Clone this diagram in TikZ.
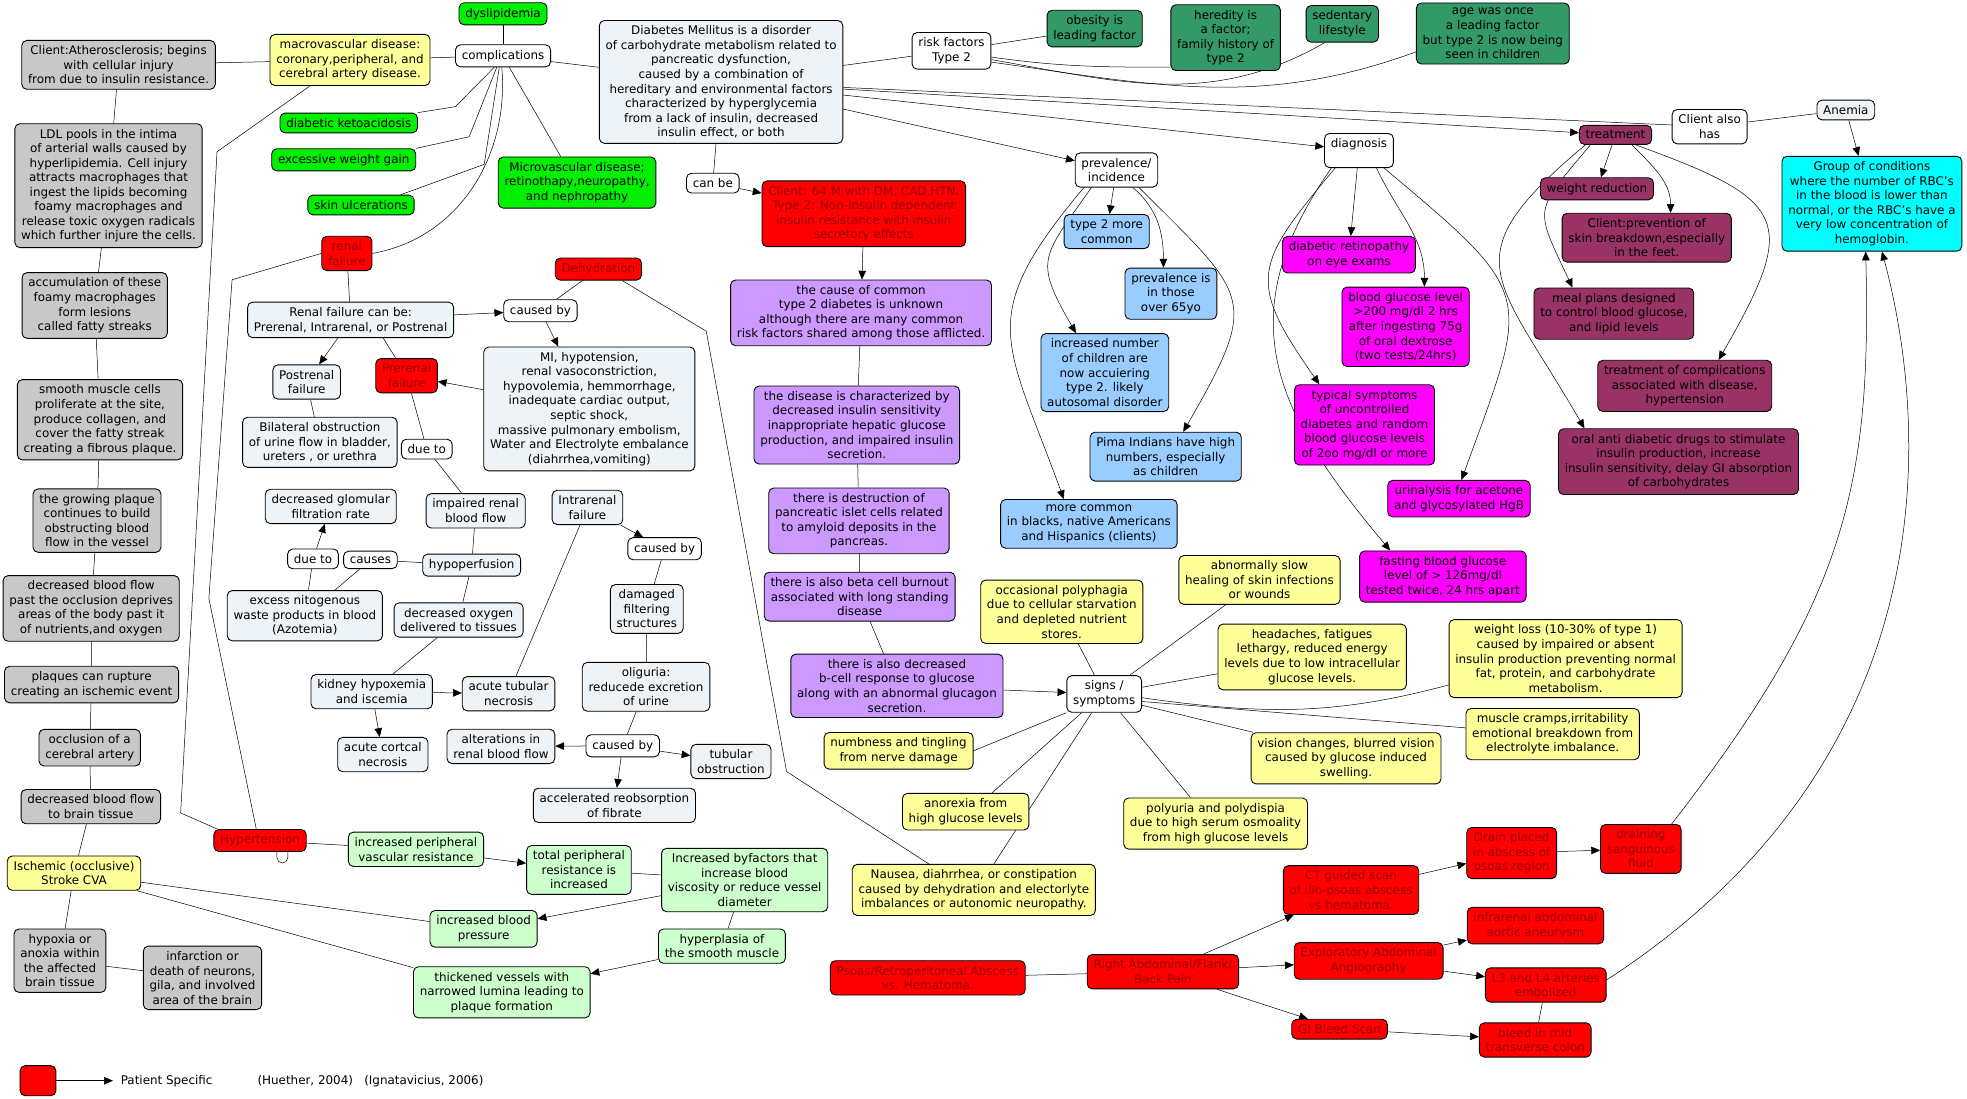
\documentclass[tikz,border=0pt]{standalone}
\usepackage{fontspec}
\setmainfont{DejaVu Sans}
\usepackage{xcolor}
\usetikzlibrary{arrows.meta, backgrounds}

\definecolor{cgrey}{RGB}{200,200,200}
\definecolor{cpale}{RGB}{237,243,246}
\definecolor{cyellow}{RGB}{255,255,153}
\definecolor{clime}{RGB}{0,240,0}
\definecolor{cforest}{RGB}{51,153,102}
\definecolor{cred}{RGB}{255,0,0}
\definecolor{cdarkred}{RGB}{150,0,0}
\definecolor{cpurple}{RGB}{204,153,255}
\definecolor{cblue}{RGB}{153,204,255}
\definecolor{cmagenta}{RGB}{255,0,255}
\definecolor{cmaroon}{RGB}{153,51,102}
\definecolor{ccyan}{RGB}{0,255,255}
\definecolor{cmint}{RGB}{204,255,204}

\begin{document}
\begin{tikzpicture}[
  x=1pt, y=1pt,
  font=\fontsize{9.5}{11.6}\selectfont,
  line width=0.6pt,
  box/.style={draw, line width=0.7pt, rounded corners=4pt, align=center,
              inner xsep=5pt, inner ysep=4.2pt},
  greybox/.style={box, fill=cgrey},
  palebox/.style={box, fill=cpale},
  yellowbox/.style={box, fill=cyellow},
  limebox/.style={box, fill=clime},
  forestbox/.style={box, fill=cforest},
  redbox/.style={box, fill=cred, text=cdarkred},
  purplebox/.style={box, fill=cpurple},
  bluebox/.style={box, fill=cblue},
  magbox/.style={box, fill=cmagenta},
  maroonbox/.style={box, fill=cmaroon},
  cyanbox/.style={box, fill=ccyan},
  mintbox/.style={box, fill=cmint},
  linkbox/.style={box, fill=white},
  arr/.style={-{Triangle[length=7pt, width=6pt]}}
]
  \useasboundingbox (0,0) rectangle (1568,-876);

  % Left column: atherosclerosis chain
  \node[greybox] (athero)    at (94.5, -51.7)  {Client:Atherosclerosis; begins\\with cellular injury\\from due to insulin resistance.};
  \node[greybox] (ldl)       at (86.5, -148)   {LDL pools in the intima\\of arterial walls caused by\\hyperlipidemia. Cell injury\\attracts macrophages that\\ingest the lipids becoming\\foamy macrophages and\\release toxic oxygen radicals\\which further injure the cells.};
  \node[greybox] (fatty)     at (75.5, -243.5) {accumulation of these\\foamy macrophages\\form lesions\\called fatty streaks};
  \node[greybox] (smooth)    at (79.7, -334.6) {smooth muscle cells\\proliferate at the site,\\produce collagen, and\\cover the fatty streak\\creating a fibrous plaque.};
  \node[greybox] (growing)   at (77.3, -415)   {the growing plaque\\continues to build\\obstructing blood\\flow in the vessel};
  \node[greybox] (decflow)   at (72.7, -485)   {decreased blood flow\\past the occlusion deprives\\areas of the body past it\\of nutrients,and oxygen};
  \node[greybox] (rupture)   at (73, -545.7)   {plaques can rupture\\creating an ischemic event};
  \node[greybox] (occlusion) at (71.5, -596)   {occlusion of a\\cerebral artery};
  \node[greybox] (brainflow) at (72.4, -643)   {decreased blood flow\\to brain tissue};
  \node[yellowbox] (stroke)  at (59, -696)     {Ischemic (occlusive)\\Stroke CVA};
  \node[greybox] (hypoxia)   at (47.8, -765.8) {hypoxia or\\anoxia within\\the affected\\brain tissue};
  \node[greybox] (infarct)   at (161.4, -779.5) {infarction or\\death of neurons,\\gila, and involved\\area of the brain};

  % Complications
  \node[limebox] (dyslip)    at (401, -11)     {dyslipidemia};
  \node[linkbox] (compl)     at (401, -44.5)   {complications};
  \node[yellowbox] (macro)   at (279, -47.8)   {macrovascular disease:\\coronary,peripheral, and\\cerebral artery disease.};
  \node[limebox] (dka)       at (278, -98)     {diabetic ketoacidosis};
  \node[limebox] (weight)    at (274, -127.4)  {excessive weight gain};
  \node[limebox] (skin)      at (287.8, -163.4) {skin ulcerations};
  \node[limebox] (micro)     at (460, -145.5)  {Microvascular disease;\\retinothapy,neuropathy,\\and nephropathy};
  \node[redbox] (renal)      at (276.5, -202)  {renal\\failure};
  \node[redbox] (dehyd)      at (477, -214.5)  {Dehydration};

  % Diabetes mellitus and type 2
  \node[palebox] (dm)        at (574.8, -65.3) {Diabetes Mellitus is a disorder\\of carbohydrate metabolism related to\\pancreatic dysfunction,\\caused by a combination of\\hereditary and environmental factors\\characterized by hyperglycemia\\from a lack of insulin, decreased\\insulin effect, or both};
  \node[linkbox] (risk)      at (758.5, -40.5) {risk factors\\Type 2};
  \node[forestbox] (obesity) at (872.6, -22.8) {obesity is\\leading factor};
  \node[forestbox] (heredity) at (977, -30)    {heredity is\\a factor;\\family history of\\type 2};
  \node[forestbox] (sedentary) at (1070, -19)  {sedentary\\lifestyle};
  \node[forestbox] (age)     at (1190, -26.7)  {age was once\\a leading factor\\but type 2 is now being\\seen in children};
  \node[linkbox] (canbe)     at (568.2, -146)  {can be};
  \node[redbox] (client64)   at (688.6, -170.4) {Client: 64 M with DM, CAD,HTN.\\Type 2: Non-Insulin dependent\\insulin resistance with insulin\\secretory effects};
  \node[purplebox] (cause)   at (686.4, -249.4) {the cause of common\\type 2 diabetes is unknown\\although there are many common\\risk factors shared among those afflicted.};
  \node[purplebox] (charac)  at (683, -338.8)  {the disease is characterized by\\decreased insulin sensitivity\\inappropriate hepatic glucose\\production, and impaired insulin\\secretion.};
  \node[purplebox] (destruction) at (684.7, -415.2) {there is destruction of\\pancreatic islet cells related\\to amyloid deposits in the\\pancreas.};
  \node[purplebox] (burnout) at (685.3, -475.6) {there is also beta cell burnout\\associated with long standing\\disease};
  \node[purplebox] (bcell)   at (715, -546.7)  {there is also decreased\\b-cell response to glucose\\along with an abnormal glucagon\\secretion.};

  % Prevalence
  \node[linkbox] (prev)      at (890, -135.5)  {prevalence/\\incidence};
  \node[bluebox] (type2common) at (882.2, -184.6) {type 2 more\\common};
  \node[bluebox] (over65)    at (933.4, -234.1) {prevalence is\\in those\\over 65yo};
  \node[bluebox] (children)  at (880.7, -297)  {increased number\\of children are\\now accuiering\\type 2. likely\\autosomal disorder};
  \node[bluebox] (pima)      at (929.2, -364)  {Pima Indians have high\\numbers, especially\\as children};
  \node[bluebox] (blacks)    at (868, -417.6)  {more common\\in blacks, native Americans\\and Hispanics (clients)};

  % Diagnosis
  \node[linkbox] (diag)      at (1083.3, -120) {diagnosis\\~};
  \node[magbox] (retino)     at (1075.3, -203) {diabetic retinopathy\\on eye exams};
  \node[magbox] (bg200)      at (1120.5, -260.5) {blood glucose level\\>200 mg/dl 2 hrs\\after ingesting 75g\\of oral dextrose\\(two tests/24hrs)};
  \node[magbox] (typical)    at (1087.7, -338.7) {typical symptoms\\of uncontrolled\\diabetes and random\\blood glucose levels\\of 2oo mg/dl or more};
  \node[magbox] (urinalysis) at (1163, -397.5) {urinalysis for acetone\\and glycosylated HgB};
  \node[magbox] (fasting)    at (1150.2, -459.6) {fasting blood glucose\\level of > 126mg/dl\\tested twice, 24 hrs apart};

  % Treatment
  \node[maroonbox] (treat)   at (1287.8, -107.5) {treatment};
  \node[maroonbox] (weightred) at (1273, -150.5) {weight reduction};
  \node[maroonbox] (prevskin) at (1312.7, -189.5) {Client:prevention of\\skin breakdown,especially\\in the feet.};
  \node[maroonbox] (meal)    at (1286.5, -250) {meal plans designed\\to control blood glucose,\\and lipid levels};
  \node[maroonbox] (complic) at (1343, -307.6) {treatment of complications\\associated with disease,\\hypertension};
  \node[maroonbox] (oral)    at (1338, -368)   {oral anti diabetic drugs to stimulate\\insulin production, increase\\insulin sensitivity, delay GI absorption\\of carbohydrates};

  % Anemia
  \node[linkbox] (alsohas)   at (1362.8, -101) {Client also\\has};
  \node[palebox] (anemia)    at (1471.4, -87.7) {Anemia};
  \node[cyanbox] (group)     at (1492.2, -162.4) {Group of conditions\\where the number of RBC's\\in the blood is lower than\\normal, or the RBC's have a\\very low concentration of\\hemoglobin.};

  % Renal failure
  \node[palebox] (renalcan)  at (279.5, -255)  {Renal failure can be:\\Prerenal, Intrarenal, or Postrenal};
  \node[linkbox] (causedby1) at (430.8, -247.7) {caused by};
  \node[palebox] (mi)        at (469.8, -326)  {MI, hypotension,\\renal vasoconstriction,\\hypovolemia, hemmorrhage,\\inadequate cardiac output,\\septic shock,\\massive pulmonary embolism,\\Water and Electrolyte embalance\\(diahrrhea,vomiting)};
  \node[palebox] (postrenal) at (244.5, -304.5) {Postrenal\\failure};
  \node[redbox] (prerenal)   at (324.1, -299.5) {Prerenal\\failure};
  \node[palebox] (bilateral) at (255, -352.6)  {Bilateral obstruction\\of urine flow in bladder,\\ureters , or urethra};
  \node[linkbox] (dueto1)    at (340.2, -358)  {due to};
  \node[palebox] (glomular)  at (263.7, -403.7) {decreased glomular\\filtration rate};
  \node[palebox] (impaired)  at (379.2, -407.2) {impaired renal\\blood flow};
  \node[palebox] (intrarenal) at (468.3, -404.5) {Intrarenal\\failure};
  \node[linkbox] (dueto2)    at (249.5, -445.5) {due to};
  \node[linkbox] (causes)    at (295.3, -446.3) {causes};
  \node[palebox] (hypoperf)  at (376, -450.5)  {hypoperfusion};
  \node[linkbox] (causedby2) at (529.8, -437.4) {caused by};
  \node[palebox] (damaged)   at (515.6, -485.4) {damaged\\filtering\\structures};
  \node[palebox] (excess)    at (243, -490.8)  {excess nitogenous\\waste products in blood\\(Azotemia)};
  \node[palebox] (decoxy)    at (365.6, -494.2) {decreased oxygen\\delivered to tissues};
  \node[palebox] (kidney)    at (296.3, -551.3) {kidney hypoxemia\\and iscemia};
  \node[palebox] (atn)       at (405.4, -553)  {acute tubular\\necrosis};
  \node[palebox] (oliguria)  at (515, -547.5)  {oliguria:\\reducede excretion\\of urine};
  \node[palebox] (cortical)  at (305.2, -601.5) {acute cortcal\\necrosis};
  \node[palebox] (alterations) at (399.3, -595) {alterations in\\renal blood flow};
  \node[linkbox] (causedby3) at (496.4, -594.5) {caused by};
  \node[palebox] (tubular)   at (582.7, -607)  {tubular\\obstruction};
  \node[palebox] (accel)     at (489.8, -642)  {accelerated reobsorption\\of fibrate};

  % Hypertension
  \node[redbox] (htn)        at (207.3, -670)  {Hypertension};
  \node[mintbox] (ipvr)      at (331.6, -677)  {increased peripheral\\vascular resistance};
  \node[mintbox] (tpr)       at (461.5, -693.5) {total peripheral\\resistance is\\increased};
  \node[mintbox] (byfactors) at (593.6, -701.5) {Increased byfactors that\\increase blood\\viscosity or reduce vessel\\diameter};
  \node[mintbox] (ibp)       at (385.5, -740.4) {increased blood\\pressure};
  \node[mintbox] (hyperplasia) at (575.5, -754.2) {hyperplasia of\\the smooth muscle};
  \node[mintbox] (thick)     at (400, -791)    {thickened vessels with\\narrowed lumina leading to\\plaque formation};

  % Signs and symptoms
  \node[linkbox] (signs)     at (880.2, -553.2) {signs /\\symptoms};
  \node[yellowbox] (polyphagia) at (846.4, -487.7) {occasional polyphagia\\due to cellular starvation\\and depleted nutrient\\stores.};
  \node[yellowbox] (slowheal) at (1004, -462.3) {abnormally slow\\healing of skin infections\\or wounds};
  \node[yellowbox] (headaches) at (1046, -523.7) {headaches, fatigues\\lethargy, reduced energy\\levels due to low intracellular\\glucose levels.};
  \node[yellowbox] (weightloss) at (1248, -525) {weight loss (10-30\% of type 1)\\caused by impaired or absent\\insulin production preventing normal\\fat, protein, and carbohydrate\\metabolism.};
  \node[yellowbox] (cramps)  at (1237.7, -585.2) {muscle cramps,irritability\\emotional breakdown from\\electrolyte imbalance.};
  \node[yellowbox] (vision)  at (1073, -604.5) {vision changes, blurred vision\\caused by glucose induced\\swelling.};
  \node[yellowbox] (numbness) at (716.3, -598.5) {numbness and tingling\\from nerve damage};
  \node[yellowbox] (anorexia) at (769.8, -647) {anorexia from\\high glucose levels};
  \node[yellowbox] (polyuria) at (969, -656.5) {polyuria and polydispia\\due to high serum osmoality\\from high glucose levels};
  \node[yellowbox] (nausea)  at (776.3, -709.4) {Nausea, diahrrhea, or constipation\\caused by dehydration and electorlyte\\imbalances or autonomic neuropathy.};

  % Abscess work-up
  \node[redbox] (psoas)      at (739.6, -779.5) {Psoas/Retroperitoneal Abscess\\vs. Hematoma.};
  \node[redbox] (pain)       at (927, -774.6)  {Right Abdominal/Flank/\\Back Pain};
  \node[redbox] (ct)         at (1077, -709.5) {CT guided scan\\of ilio-psoas abscess\\vs hematoma.};
  \node[redbox] (explor)     at (1091, -766)   {Exploratory Abdominal\\Angiography};
  \node[redbox] (gi)         at (1067.8, -820.4) {GI Bleed Scan};
  \node[redbox] (drain)      at (1205, -680)   {Drain placed\\in abscess of\\psoas region};
  \node[redbox] (draining)   at (1308, -676.7) {draining\\sanguinous\\fluid};
  \node[redbox] (infrarenal) at (1224, -737.8) {infrarenal abdominal\\aortic aneurysm};
  \node[redbox] (l3l4)       at (1232.2, -785.2) {L3 and L4 arteries\\embolized};
  \node[redbox] (bleed)      at (1223.8, -829) {bleed in mid\\transverse colon};

  % Legend
  \node[redbox, minimum width=28.5pt, minimum height=24pt] (legbox) at (30.3, -861.5) {};
  \node[anchor=west, inner sep=2pt] (legtxt) at (94, -861.5) {Patient Specific};
  \node[anchor=west, inner sep=2pt] (legcite) at (203, -861.5) {(Huether, 2004)\hspace{9pt}(Ignatavicius, 2006)};

  \begin{scope}[on background layer]
    % atherosclerosis chain
    \draw (athero) -- (macro);
    \draw (athero) -- (ldl);
    \draw (ldl) -- (fatty);
    \draw (fatty) -- (smooth);
    \draw (smooth) -- (growing);
    \draw (growing) -- (decflow);
    \draw (decflow) -- (rupture);
    \draw (rupture) -- (occlusion);
    \draw (occlusion) -- (brainflow);
    \draw (brainflow) -- (stroke);
    \draw (stroke) -- (hypoxia);
    \draw (hypoxia) -- (infarct);
    \draw (stroke) -- (ibp);
    \draw (stroke) -- (thick);

    % complications fan
    \draw (macro) -- (compl);
    \draw (dyslip) -- (compl);
    \draw (compl) -- (dm);
    \draw ([xshift=-7pt]compl.south) -- (363,-85) -- (dka.north east);
    \draw ([xshift=-5pt]compl.south) -- (374,-109) -- (weight.north east);
    \draw ([xshift=-3pt]compl.south) -- (386,-131) -- ([xshift=-11pt]skin.north east);
    \draw ([xshift=-1pt]compl.south) to[out=-85, in=10] (renal.east);
    \draw ([xshift=5pt]compl.south) -- ([xshift=-13pt]micro.north);
    \draw ([xshift=-32pt]macro.south) -- (173,-121) -- (144,-648) -- ([xshift=3pt]htn.north west);
    \draw (renal.west) -- (185,-223) -- (166.5,-477) -- ([xshift=-3pt]htn.north);

    % risk factors
    \draw (dm) -- (risk);
    \draw (risk) -- (obesity);
    \draw ([yshift=-5pt]risk.east) to[out=-8, in=180] ([yshift=3pt]heredity.south west);
    \draw ([yshift=-7pt]risk.east) to[out=-10, in=-150] ([xshift=-14pt]sedentary.south);
    \draw ([yshift=-9pt]risk.east) to[out=-8, in=200] ([yshift=10pt]age.south west);

    % type 2 chain
    \draw (dm) -- (canbe);
    \draw[arr] (canbe) -- (client64);
    \draw[arr] (client64) -- (cause);
    \draw (cause) -- (charac);
    \draw (charac) -- (destruction);
    \draw (destruction) -- (burnout);
    \draw (burnout) -- (bcell);
    \draw[arr] (bcell) -- (signs);

    % from the disorder to the right
    \draw[arr] (dm) -- (prev);
    \draw[arr] (dm) -- (diag);
    \draw[arr] (dm) -- (treat);
    \draw (dm) -- (alsohas);
    \draw (alsohas) -- (anemia);
    \draw[arr] (anemia) -- (group);

    % prevalence
    \draw[arr] (prev) -- (type2common);
    \draw[arr] ([xshift=13pt]prev.south) to[out=-40, in=90] ([xshift=-6pt]over65.north);
    \draw[arr] ([xshift=-20pt]prev.south) to[out=-125, in=120, looseness=1.5] ([xshift=-23pt]children.north);
    \draw[arr] ([xshift=18pt]prev.south) to[out=-45, in=60, looseness=1.6] ([xshift=14pt]pima.north);
    \draw[arr] ([xshift=-26pt]prev.south) to[out=-130, in=110, looseness=1.4] ([xshift=-20pt]blacks.north);

    % diagnosis
    \draw[arr] (diag) -- (retino);
    \draw[arr] ([xshift=14pt]diag.south) to[out=-65, in=90] ([xshift=15pt]bg200.north);
    \draw[arr] ([xshift=-19pt]diag.south) to[out=-130, in=125, looseness=1.5] ([xshift=-36pt]typical.north);
    \draw[arr] ([xshift=-22pt]diag.south) to[out=-125, in=130, looseness=1.2] ([xshift=-42pt]fasting.north);
    \draw[arr] ([xshift=20pt]diag.south) to[out=-40, in=70, looseness=1.6] ([xshift=2pt]urinalysis.north);

    % treatment
    \draw[arr] (treat) -- (weightred);
    \draw[arr] ([xshift=13pt]treat.south) to[out=-45, in=90] ([xshift=19pt]prevskin.north);
    \draw[arr] ([xshift=-20pt]treat.south) to[out=-130, in=115, looseness=1.6] ([xshift=-33pt]meal.north);
    \draw[arr] ([xshift=16pt]treat.south) to[out=-20, in=60, looseness=1.8] ([xshift=27pt]complic.north);
    \draw[arr] ([xshift=-24pt]treat.south) to[out=-140, in=120, looseness=1.6] ([xshift=-75pt]oral.north);

    % signs and symptoms
    \draw (signs) -- (polyphagia);
    \draw (signs) -- (slowheal);
    \draw (signs) -- (headaches);
    \draw ([yshift=-3pt]signs.east) to[out=-8, in=195] ([yshift=-21pt]weightloss.west);
    \draw ([yshift=-6pt]signs.east) -- ([yshift=5pt]cramps.west);
    \draw ([yshift=-9pt]signs.east) -- ([xshift=2pt]vision.north west);
    \draw (signs.south west) -- (numbness.east);
    \draw ([xshift=-18pt]signs.south) -- ([xshift=21pt]anorexia.north);
    \draw ([xshift=-10pt]signs.south) -- ([xshift=16pt]nausea.north);
    \draw ([xshift=13pt]signs.south) -- ([xshift=-20pt]polyuria.north);

    % renal failure
    \draw (renal) -- (renalcan);
    \draw[arr] (renalcan) -- (causedby1);
    \draw (dehyd) -- (causedby1);
    \draw ([xshift=19pt]dehyd.south) -- (563,-264) -- (627,-615) -- ([xshift=-36pt]nausea.north);
    \draw[arr] (causedby1) -- (mi);
    \draw[arr] (mi) -- (prerenal);
    \draw[arr] (renalcan) -- (postrenal);
    \draw ([xshift=26pt]renalcan.south) -- (prerenal);
    \draw (prerenal) -- (dueto1);
    \draw (dueto1) -- (impaired);
    \draw (postrenal) -- (bilateral);
    \draw (impaired) -- (hypoperf);
    \draw (hypoperf) -- (causes);
    \draw (causes) -- (excess);
    \draw (excess) -- (dueto2);
    \draw[arr] (dueto2) -- (glomular);
    \draw (hypoperf) -- (decoxy);
    \draw (decoxy) -- (kidney);
    \draw[arr] (kidney) -- (atn);
    \draw[arr] (kidney) -- (cortical);
    \draw (atn) -- (intrarenal);
    \draw[arr] (intrarenal) -- (causedby2);
    \draw (causedby2) -- (damaged);
    \draw (damaged) -- (oliguria);
    \draw (oliguria) -- (causedby3);
    \draw[arr] (causedby3) -- (alterations);
    \draw[arr] (causedby3) -- (tubular);
    \draw[arr] (causedby3) -- (accel);

    % hypertension
    \draw (htn) -- (ipvr);
    \draw[arr] (ipvr) -- (tpr);
    \draw (tpr) -- (byfactors);
    \draw[arr] (byfactors) -- (ibp);
    \draw (byfactors) -- (hyperplasia);
    \draw[arr] (hyperplasia) -- (thick);
    \draw ([xshift=13.5pt]htn.south) -- ++(0,-4.5) arc[start angle=180, end angle=360, radius=4.3pt] -- ++(0,4.5);

    % abscess work-up
    \draw (psoas) -- (pain);
    \draw[arr] (pain) -- (ct);
    \draw[arr] (pain) -- (explor);
    \draw[arr] (pain) -- (gi);
    \draw[arr] (ct) -- (drain);
    \draw[arr] (drain) -- (draining);
    \draw[arr] (explor) -- (infrarenal);
    \draw[arr] (explor) -- (l3l4);
    \draw[arr] (gi) -- (bleed);
    \draw (bleed) -- (l3l4);
    \draw[arr] ([xshift=-8pt]draining.north east) .. controls (1470,-480) and (1492,-390) .. ([xshift=-5pt]group.south);
    \draw[arr] ([yshift=4pt]l3l4.east) .. controls (1560,-600) and (1535,-330) .. ([xshift=8pt]group.south);

    % legend
    \draw[arr] (legbox) -- ([xshift=-4pt]legtxt.west);
  \end{scope}
\end{tikzpicture}
\end{document}
